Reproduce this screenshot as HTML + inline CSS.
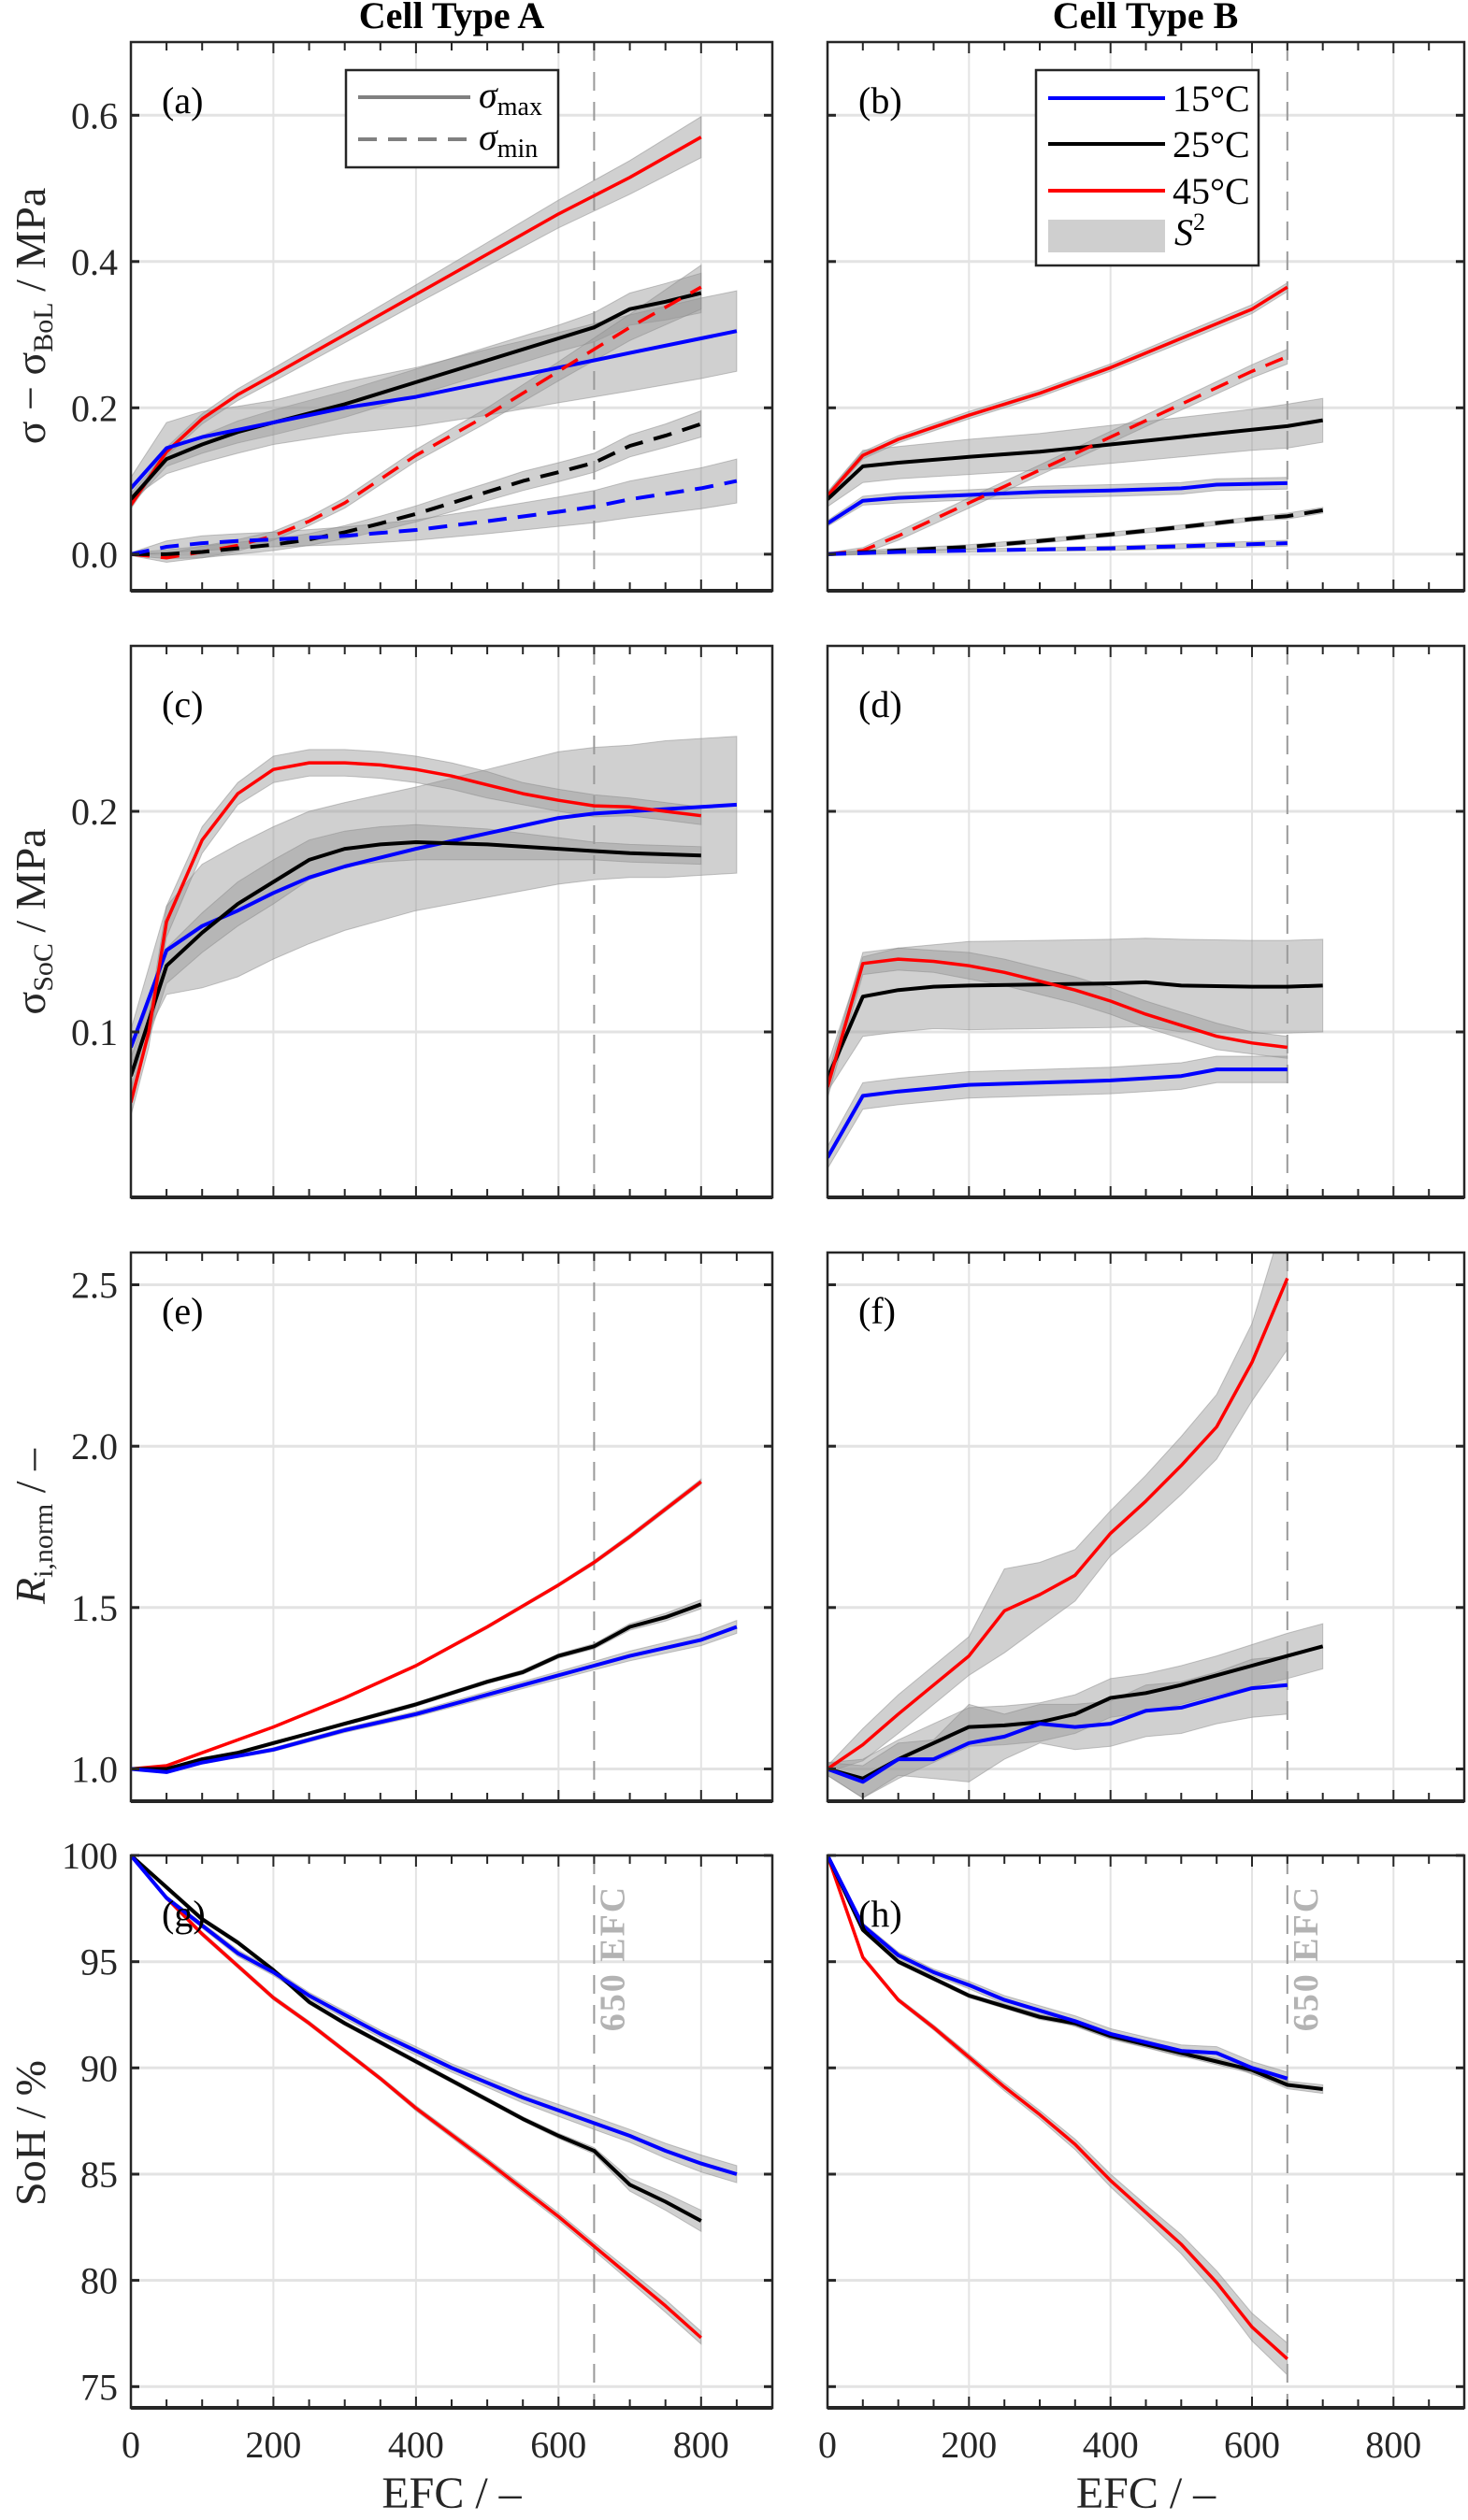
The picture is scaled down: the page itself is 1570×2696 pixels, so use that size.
<!DOCTYPE html>
<html><head><meta charset="utf-8"><style>
html,body{margin:0;padding:0;background:#fff;}
svg{display:block;font-family:"Liberation Serif",serif;}
svg text{font-family:"Liberation Serif",serif;}
</style></head><body>
<svg id="s" width="1570" height="2696" viewBox="0 0 1570 2696" font-family="Liberation Serif, serif" xmlns="http://www.w3.org/2000/svg"></svg>
<script>
const cols=[{x0:140,x1:826},{x0:885,x1:1566}];
const rows=[{y0:45,y1:632,lo:-0.05,hi:0.7,ticks:[0,0.2,0.4,0.6],lab:v=>v.toFixed(1)},
{y0:691,y1:1281,lo:0.025,hi:0.275,ticks:[0.1,0.2],lab:v=>v.toFixed(1)},
{y0:1340,y1:1927,lo:0.9,hi:2.6,ticks:[1,1.5,2,2.5],lab:v=>v.toFixed(1)},
{y0:1985,y1:2576,lo:74,hi:100,ticks:[75,80,85,90,95,100],lab:v=>String(v)}];
const B='#0000ff',K='#000000',R='#ff0000';
const P={};
P['0,0']=[
[R,0,[[0,.067,.005],[50,.14,.006],[100,.185,.007],[150,.218,.008],[200,.245,.009],[300,.30,.011],[400,.355,.013],[500,.41,.016],[600,.465,.019],[650,.49,.021],[700,.515,.023],[800,.57,.028]]],
[K,0,[[0,.075,.008],[50,.13,.01],[100,.15,.012],[150,.167,.015],[200,.18,.017],[300,.205,.018],[400,.235,.018],[500,.265,.018],[600,.295,.018],[650,.31,.02],[700,.335,.022],[750,.345,.025],[800,.357,.027]]],
[B,0,[[0,.09,.015],[50,.145,.035],[100,.16,.035],[150,.17,.032],[200,.18,.03],[300,.2,.035],[400,.215,.04],[500,.235,.045],[600,.255,.048],[650,.265,.05],[700,.275,.052],[800,.295,.055],[850,.305,.055]]],
[R,1,[[0,0,.002],[50,-.005,.006],[100,.003,.008],[150,.012,.008],[200,.025,.006],[250,.045,.006],[300,.07,.007],[400,.135,.008],[500,.19,.01],[600,.25,.013],[700,.31,.018],[800,.365,.03]]],
[K,1,[[0,0,.002],[50,0,.006],[100,.003,.008],[150,.008,.008],[200,.013,.008],[250,.02,.008],[300,.03,.009],[350,.042,.01],[400,.055,.011],[450,.07,.012],[500,.085,.012],[550,.1,.013],[600,.112,.013],[650,.125,.013],[700,.148,.015],[750,.162,.016],[800,.178,.018]]],
[B,1,[[0,0,.002],[50,.01,.008],[100,.015,.01],[150,.018,.01],[200,.02,.01],[300,.025,.012],[400,.033,.014],[500,.045,.017],[600,.058,.02],[650,.065,.022],[700,.075,.025],[800,.09,.028],[850,.1,.03]]]];
P['0,1']=[
[R,0,[[0,.08,.004],[50,.135,.005],[100,.157,.005],[200,.19,.005],[300,.22,.005],[400,.255,.005],[500,.295,.006],[600,.335,.006],[650,.365,.006]]],
[K,0,[[0,.075,.01],[50,.12,.022],[100,.125,.022],[200,.133,.024],[300,.14,.025],[400,.15,.026],[500,.16,.027],[600,.17,.028],[650,.175,.03],[700,.183,.03]]],
[B,0,[[0,.042,.004],[50,.073,.006],[100,.077,.007],[200,.081,.007],[300,.085,.008],[400,.087,.008],[500,.09,.008],[550,.095,.008],[650,.097,.008]]],
[R,1,[[0,0,.002],[50,.005,.004],[100,.025,.006],[200,.07,.007],[300,.115,.007],[400,.16,.008],[500,.205,.008],[600,.25,.009],[650,.27,.01]]],
[K,1,[[0,0,.002],[100,.005,.003],[200,.01,.003],[300,.018,.003],[400,.027,.003],[500,.037,.003],[600,.048,.003],[650,.052,.004],[700,.06,.004]]],
[B,1,[[0,0,.002],[100,.003,.002],[200,.005,.002],[400,.008,.003],[650,.015,.004]]]];
P['1,0']=[
[B,0,[[0,.093,.008],[50,.137,.02],[100,.148,.028],[150,.155,.03],[200,.163,.03],[250,.17,.03],[300,.175,.029],[400,.183,.028],[500,.19,.029],[600,.197,.03],[650,.199,.03],[700,.2,.03],[750,.201,.031],[800,.202,.031],[850,.203,.031]]],
[K,0,[[0,.08,.008],[50,.13,.008],[100,.145,.009],[150,.158,.01],[200,.168,.01],[250,.178,.009],[300,.183,.008],[350,.185,.008],[400,.186,.008],[500,.185,.007],[600,.183,.005],[650,.182,.004],[700,.181,.004],[800,.18,.004]]],
[R,0,[[0,.068,.006],[25,.1,.007],[50,.15,.007],[100,.187,.006],[150,.208,.005],[200,.219,.006],[250,.222,.006],[300,.222,.006],[350,.221,.006],[400,.219,.006],[450,.216,.006],[500,.212,.006],[550,.208,.005],[600,.205,.005],[650,.2025,.005],[700,.202,.004],[750,.2,.004],[800,.198,.004]]]];
P['1,1']=[
[K,0,[[0,.079,.006],[50,.116,.018],[100,.119,.019],[150,.1205,.019],[200,.121,.02],[300,.1215,.02],[400,.122,.02],[450,.1225,.02],[500,.121,.021],[600,.1205,.021],[650,.1205,.021],[700,.121,.021]]],
[R,0,[[0,.075,.005],[50,.131,.005],[100,.133,.005],[150,.132,.005],[200,.13,.006],[250,.127,.006],[300,.123,.006],[350,.119,.006],[400,.114,.006],[450,.108,.006],[500,.103,.006],[550,.098,.006],[600,.095,.005],[650,.093,.005]]],
[B,0,[[0,.043,.005],[50,.071,.006],[100,.073,.006],[150,.0745,.006],[200,.076,.006],[300,.077,.006],[400,.078,.006],[450,.079,.006],[500,.08,.006],[550,.083,.006],[650,.083,.006]]]];
P['2,0']=[
[R,0,[[0,1,.002],[50,1.01,.003],[100,1.05,.003],[150,1.09,.003],[200,1.13,.003],[300,1.22,.004],[400,1.32,.004],[500,1.44,.005],[600,1.57,.005],[650,1.64,.006],[700,1.72,.007],[800,1.89,.008]]],
[K,0,[[0,1,.002],[50,1,.004],[100,1.03,.004],[150,1.05,.005],[200,1.08,.005],[250,1.11,.005],[300,1.14,.005],[350,1.17,.006],[400,1.2,.006],[500,1.27,.006],[550,1.3,.007],[600,1.35,.007],[650,1.38,.008],[700,1.44,.01],[750,1.47,.012],[800,1.51,.014]]],
[B,0,[[0,1,.002],[50,.99,.004],[100,1.02,.005],[150,1.04,.005],[200,1.06,.006],[300,1.12,.007],[400,1.17,.008],[500,1.23,.01],[600,1.29,.012],[650,1.32,.013],[700,1.35,.015],[800,1.4,.018],[850,1.44,.02]]]];
P['2,1']=[
[R,0,[[0,1,.01],[50,1.075,.05],[100,1.17,.06],[150,1.26,.06],[200,1.35,.06],[250,1.49,.13],[300,1.54,.1],[350,1.6,.08],[400,1.73,.07],[450,1.83,.08],[500,1.94,.09],[550,2.06,.1],[600,2.26,.12],[650,2.52,.22]]],
[K,0,[[0,1,.02],[50,.97,.06],[100,1.03,.06],[150,1.08,.06],[200,1.13,.06],[250,1.135,.06],[300,1.145,.06],[350,1.17,.06],[400,1.22,.06],[450,1.235,.06],[500,1.26,.06],[550,1.29,.06],[600,1.32,.065],[650,1.35,.07],[700,1.38,.07]]],
[B,0,[[0,1,.02],[50,.96,.05],[100,1.03,.05],[150,1.03,.06],[200,1.08,.12],[250,1.1,.07],[300,1.14,.06],[350,1.13,.07],[400,1.14,.07],[450,1.18,.08],[500,1.19,.08],[550,1.22,.08],[600,1.25,.09],[650,1.26,.09]]]];
P['3,0']=[
[R,0,[[0,100,.05],[50,98,.08],[100,96.3,.1],[150,94.8,.1],[200,93.3,.1],[250,92.1,.1],[300,90.8,.1],[350,89.5,.1],[400,88.1,.12],[500,85.6,.15],[600,83,.18],[650,81.6,.2],[700,80.2,.25],[750,78.8,.3],[800,77.3,.3]]],
[K,0,[[0,100,.05],[50,98.5,.1],[100,97,.1],[150,95.9,.1],[200,94.6,.1],[250,93.1,.1],[300,92.1,.1],[350,91.2,.1],[400,90.3,.1],[450,89.4,.1],[500,88.5,.1],[550,87.6,.1],[600,86.8,.12],[650,86.1,.15],[700,84.5,.3],[750,83.7,.4],[800,82.8,.5]]],
[B,0,[[0,100,.05],[50,98,.1],[100,96.7,.12],[150,95.4,.15],[200,94.5,.15],[250,93.4,.15],[300,92.5,.18],[350,91.6,.18],[400,90.8,.2],[450,90,.2],[500,89.3,.22],[550,88.6,.25],[600,88,.28],[650,87.4,.3],[700,86.8,.3],[750,86.1,.35],[800,85.5,.4],[850,85,.4]]]];
P['3,1']=[
[R,0,[[0,100,.05],[50,95.2,.1],[100,93.2,.1],[150,91.9,.12],[200,90.5,.15],[250,89.1,.18],[300,87.8,.2],[350,86.4,.25],[400,84.7,.3],[450,83.2,.35],[500,81.7,.45],[550,79.9,.55],[600,77.8,.65],[650,76.3,.75]]],
[K,0,[[0,100,.05],[50,96.5,.1],[100,95,.1],[150,94.2,.1],[200,93.4,.1],[250,92.9,.1],[300,92.4,.12],[350,92.1,.12],[400,91.5,.12],[450,91.1,.12],[500,90.7,.14],[550,90.3,.15],[600,89.9,.16],[650,89.2,.18],[700,89,.2]]],
[B,0,[[0,100,.05],[50,96.7,.12],[100,95.3,.15],[150,94.5,.15],[200,93.9,.18],[250,93.2,.2],[300,92.7,.22],[350,92.2,.25],[400,91.6,.25],[450,91.2,.25],[500,90.8,.28],[550,90.7,.3],[600,90,.3],[650,89.5,.3]]]];
let o='';
const FF='font-family="Liberation Serif, serif"';
const f=n=>n.toFixed(1);
const labels=[['(a)','(b)'],['(c)','(d)'],['(e)','(f)'],['(g)','(h)']];
rows.forEach((r,ri)=>{cols.forEach((c,ci)=>{
 const X=v=>c.x0+v*(c.x1-c.x0)/900, Y=v=>r.y1-(v-r.lo)*(r.y1-r.y0)/(r.hi-r.lo);
 o+=`<defs><clipPath id="c${ri}${ci}"><rect x="${c.x0}" y="${r.y0}" width="${c.x1-c.x0}" height="${r.y1-r.y0}"/></clipPath></defs>`;
 [200,400,600,800].forEach(v=>o+=`<line x1="${f(X(v))}" x2="${f(X(v))}" y1="${r.y0}" y2="${r.y1}" stroke="#e3e3e3" stroke-width="2"/>`);
 r.ticks.forEach(v=>o+=`<line x1="${c.x0}" x2="${c.x1}" y1="${f(Y(v))}" y2="${f(Y(v))}" stroke="#e3e3e3" stroke-width="3"/>`);
 o+=`<g clip-path="url(#c${ri}${ci})">`;
 const S=P[ri+','+ci];
 S.forEach(s=>{const p=s[2];let up=p.map(q=>f(X(q[0]))+','+f(Y(q[1]+q[2]))),dn=p.slice().reverse().map(q=>f(X(q[0]))+','+f(Y(q[1]-q[2])));
  o+=`<polygon points="${up.concat(dn).join(' ')}" fill="#969696" fill-opacity="0.45" stroke="#8c8c8c" stroke-opacity="0.5" stroke-width="1"/>`;});
 o+=`<line x1="${f(X(650))}" x2="${f(X(650))}" y1="${r.y0}" y2="${r.y1}" stroke="#9a9a9a" stroke-width="2" stroke-dasharray="20,12"/>`;
 S.forEach(s=>{const p=s[2];o+=`<polyline points="${p.map(q=>f(X(q[0]))+','+f(Y(q[1]))).join(' ')}" fill="none" stroke="${s[0]}" stroke-width="${s[0]==R?3.5:4}" stroke-linejoin="round" ${s[1]?'stroke-dasharray="20,12"':''}/>`;});
 o+='</g>';
 o+=`<rect x="${c.x0}" y="${r.y0}" width="${c.x1-c.x0}" height="${r.y1-r.y0}" fill="none" stroke="#262626" stroke-width="2.5"/>`;
 o+=`<line x1="${c.x0}" x2="${c.x1}" y1="${r.y1}" y2="${r.y1}" stroke="#262626" stroke-width="4"/>`;
 for(let v=50;v<900;v+=50){const x=f(X(v)),L=v%200==0?12:9;o+=`<line x1="${x}" x2="${x}" y1="${r.y1}" y2="${r.y1-L}" stroke="#262626" stroke-width="2"/><line x1="${x}" x2="${x}" y1="${r.y0}" y2="${r.y0+L}" stroke="#262626" stroke-width="2"/>`;}
 r.ticks.forEach(v=>{const y=f(Y(v));o+=`<line x1="${c.x0}" x2="${c.x0+9}" y1="${y}" y2="${y}" stroke="#262626" stroke-width="3"/><line x1="${c.x1}" x2="${c.x1-9}" y1="${y}" y2="${y}" stroke="#262626" stroke-width="3"/>`;
  if(ci==0)o+=`<text ${FF} x="126" y="${f(Y(v)+14)}" font-size="40" text-anchor="end" fill="#262626">${r.lab(v)}</text>`;});
 if(ri==3){[0,200,400,600,800].forEach(v=>o+=`<text ${FF} x="${f(X(v))}" y="2629" font-size="40" text-anchor="middle" fill="#262626">${v}</text>`);
  o+=`<text ${FF} x="${(c.x0+c.x1)/2}" y="2683" font-size="48" text-anchor="middle" fill="#262626">EFC / –</text>`;
  o+=`<text ${FF} transform="translate(${f(X(650)+32)},2095) rotate(-90)" font-size="38" font-weight="bold" text-anchor="middle" fill="#b3b3b3" letter-spacing="2">650 EFC</text>`;}
 o+=`<text ${FF} x="${c.x0+33}" y="${r.y0+76}" font-size="40" fill="#000">${labels[ri][ci]}</text>`;
});});
o+=`<text ${FF} x="483" y="30" font-size="40" font-weight="bold" text-anchor="middle">Cell Type A</text>`;
o+=`<text ${FF} x="1225" y="30" font-size="40" font-weight="bold" text-anchor="middle">Cell Type B</text>`;
const yl=[[338,'σ − σ<tspan font-size="30" dy="8">BoL</tspan><tspan dy="-8"> / MPa</tspan>'],[986,'σ<tspan font-size="30" dy="8">SoC</tspan><tspan dy="-8"> / MPa</tspan>'],[1633,'<tspan font-style="italic">R</tspan><tspan font-size="30" dy="8">i,norm</tspan><tspan dy="-8"> / –</tspan>'],[2282,'SoH / %']];
yl.forEach(a=>o+=`<text ${FF} transform="translate(48,${a[0]}) rotate(-90)" font-size="46" text-anchor="middle" fill="#262626">${a[1]}</text>`);
o+=`<rect x="370" y="75" width="227" height="104" fill="#fff" stroke="#262626" stroke-width="2.5"/>`;
o+=`<line x1="383" x2="503" y1="104" y2="104" stroke="#808080" stroke-width="4"/><line x1="383" x2="503" y1="149" y2="149" stroke="#808080" stroke-width="4" stroke-dasharray="20,12"/>`;
o+=`<text ${FF} x="512" y="115" font-size="40" font-style="italic">σ<tspan font-size="28" font-style="normal" dy="8">max</tspan></text>`;
o+=`<text ${FF} x="512" y="160" font-size="40" font-style="italic">σ<tspan font-size="28" font-style="normal" dy="8">min</tspan></text>`;
o+=`<rect x="1108" y="75" width="238" height="209" fill="#fff" stroke="#262626" stroke-width="2.5"/>`;
[[105,B,'15°C'],[154,K,'25°C'],[204,R,'45°C']].forEach(e=>o+=`<line x1="1121" x2="1246" y1="${e[0]}" y2="${e[0]}" stroke="${e[1]}" stroke-width="4"/><text ${FF} x="1254" y="${e[0]+14}" font-size="40">${e[2]}</text>`);
o+=`<rect x="1121" y="235" width="125" height="35" fill="#cfcfcf"/><text ${FF} x="1256" y="262" font-size="40" font-style="italic">S<tspan font-size="26" font-style="normal" dy="-16">2</tspan></text>`;
document.getElementById('s').innerHTML=o;
</script>
</body></html>
